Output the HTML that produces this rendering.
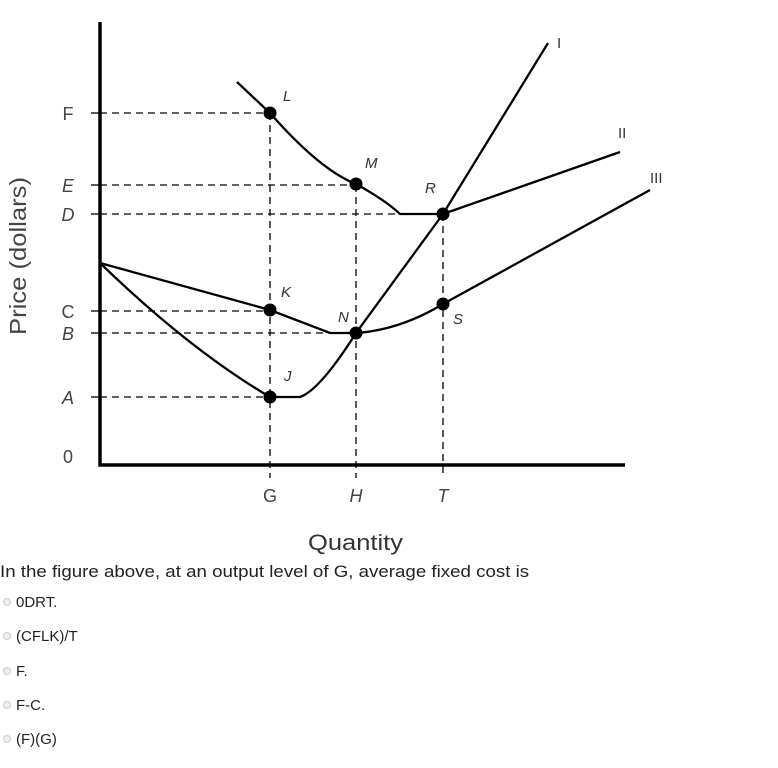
<!DOCTYPE html>
<html><head><style>
body{margin:0;background:#fff;width:778px;height:768px;overflow:hidden;font-family:"Liberation Sans",sans-serif;}
.q{position:absolute;left:0;top:562px;font-size:17px;color:#222;white-space:nowrap;transform-origin:0 0;transform:scaleX(1.1);}
.o{position:absolute;left:16px;font-size:15px;color:#222;}
.r{position:absolute;left:3px;width:6px;height:6px;border:1px solid #ccc;border-radius:50%;background:#eee;}
</style></head><body>
<svg width="778" height="560" style="position:absolute;left:0;top:0" font-family="Liberation Sans, sans-serif">
<g stroke="#000" stroke-width="1.3" stroke-dasharray="7,5" fill="none">
<line x1="100" y1="113" x2="270" y2="113"/><line x1="100" y1="185" x2="356" y2="185"/>
<line x1="100" y1="214" x2="443" y2="214"/><line x1="100" y1="311" x2="270" y2="311"/>
<line x1="100" y1="333" x2="356" y2="333"/><line x1="100" y1="397" x2="270" y2="397"/>
<line x1="270" y1="113" x2="270" y2="478"/><line x1="356" y1="185" x2="356" y2="478"/>
<line x1="443" y1="214" x2="443" y2="478"/>
</g>
<g stroke="#000" stroke-width="1.3"><line x1="91" y1="113" x2="100" y2="113"/><line x1="91" y1="185" x2="100" y2="185"/><line x1="91" y1="214" x2="100" y2="214"/><line x1="91" y1="311" x2="100" y2="311"/><line x1="91" y1="333" x2="100" y2="333"/><line x1="91" y1="397" x2="100" y2="397"/></g>
<polyline points="100,22 100,465 625,465" fill="none" stroke="#000" stroke-width="3.5"/>
<g fill="none" stroke="#000" stroke-width="2.3">
<path d="M100,263 Q190,350 270,397 L300,397 Q320,390 356,333 L443,214 L548,43"/>
<path d="M237,82 L270,113 Q320,170 356,184 Q385,200 400,214 L443,214 L620,152"/>
<path d="M100,263 L270,310 L330,333 L356,333 Q400,330 443,304 L650,190"/>
</g>
<g fill="#000">
<circle cx="270" cy="113" r="6.5"/><circle cx="356" cy="184" r="6.5"/><circle cx="443" cy="214" r="6.5"/>
<circle cx="270" cy="310" r="6.5"/><circle cx="356" cy="333" r="6.5"/><circle cx="443" cy="304" r="6.5"/>
<circle cx="270" cy="397" r="6.5"/>
</g>
<g font-size="18" fill="#444" text-anchor="middle">
<text x="68" y="120">F</text><text x="68" y="192" font-style="italic">E</text><text x="68" y="221" font-style="italic">D</text>
<text x="68" y="318">C</text><text x="68" y="340" font-style="italic">B</text><text x="68" y="404" font-style="italic">A</text>
<text x="68" y="463">0</text>
<text x="270" y="502">G</text><text x="356" y="502" font-style="italic">H</text><text x="443" y="502" font-style="italic">T</text>
</g>
<g font-size="15" fill="#333" font-style="italic">
<text x="283" y="101">L</text><text x="365" y="168">M</text><text x="425" y="193">R</text>
<text x="281" y="297">K</text><text x="338" y="322">N</text><text x="453" y="324">S</text><text x="284" y="381">J</text>
</g>
<g font-size="15" fill="#333"><text x="557" y="48">I</text><text x="618" y="138">II</text><text x="650" y="183">III</text></g>
<text x="308" y="550" font-size="22" fill="#333" textLength="95" lengthAdjust="spacingAndGlyphs">Quantity</text>
<text transform="translate(26,335) rotate(-90)" font-size="23" fill="#444" textLength="158" lengthAdjust="spacingAndGlyphs">Price (dollars)</text>
</svg>
<div class="q">In the figure above, at an output level of G, average fixed cost is</div>
<div class="r" style="top:598px"></div><div class="o" style="top:594px">0DRT.</div>
<div class="r" style="top:632px"></div><div class="o" style="top:628px">(CFLK)/T</div>
<div class="r" style="top:667px"></div><div class="o" style="top:663px">F.</div>
<div class="r" style="top:701px"></div><div class="o" style="top:697px">F-C.</div>
<div class="r" style="top:735px"></div><div class="o" style="top:731px">(F)(G)</div>
</body></html>
